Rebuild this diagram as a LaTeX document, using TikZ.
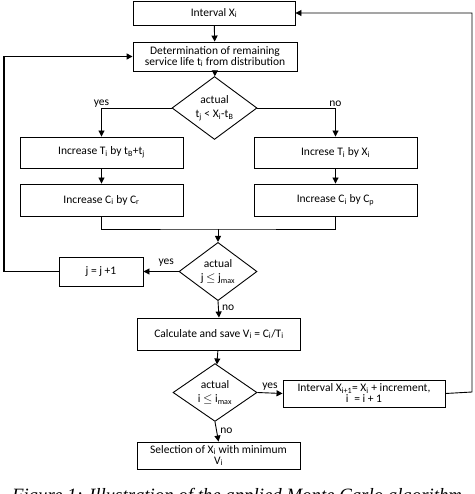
\documentclass[tikz,border=0pt]{standalone}
\usepackage{fontspec}
\setmainfont{Carlito}
\newfontfamily\capfont{Liberation Serif}
\usetikzlibrary{shapes.geometric, arrows.meta, positioning}
\newcommand{\lo}[1]{\textsubscript{#1}}

\begin{document}
\begin{tikzpicture}[x=1pt, y=-1pt,
  box/.style={draw, line width=0.9pt, inner sep=1pt, align=center, font=\fontsize{11.5}{12.5}\selectfont},
  decision/.style={draw, diamond, line width=0.9pt, inner sep=0pt, align=center, font=\fontsize{11.5}{14}\selectfont},
  flow/.style={line width=0.9pt, -{Triangle[length=6pt,width=6pt]}},
  tag/.style={font=\fontsize{11.5}{12.5}\selectfont}]
\useasboundingbox (0,0) rectangle (474,494);

% boxes and decisions placed at coordinates
\node[box, minimum width=162pt, minimum height=24pt] (interval) at (214,13) {Interval X\lo{i}};
\node[box, minimum width=164pt, minimum height=29pt] (determ) at (215,56.5)
  {Determination of remaining\\[-1.5pt]service life t\lo{i} from distribution};
\node[decision, minimum width=85pt, minimum height=52pt] (lifedec) at (214.5,108)
  {actual\\t\lo{j} < X\lo{i}-t\lo{B}};
\node[box, minimum width=163pt, minimum height=31pt] (incT) at (101.5,152.5) {Increase T\lo{i} by t\lo{B}+t\lo{j}};
\node[box, minimum width=163pt, minimum height=32pt] (incC) at (101.5,200) {Increase C\lo{i} by C\lo{r}};
\node[box, minimum width=163pt, minimum height=31pt] (incTX) at (335.5,152.5) {Increse T\lo{i} by X\lo{i}};
\node[box, minimum width=163pt, minimum height=32pt] (incCp) at (335.5,200) {Increase C\lo{i} by C\lo{p}};
\coordinate (join) at (218,229);
\node[decision, minimum width=78pt, minimum height=49pt] (jdec) at (218,271.5)
  {actual\\j $\leq$ j\lo{max}};
\node[box, minimum width=84pt, minimum height=29pt] (jinc) at (101,271.5) {j = j +1};
\node[box, minimum width=163pt, minimum height=32pt] (calc) at (219,334)
  {Calculate and save V\lo{i} = C\lo{i}/T\lo{i}};
\node[decision, minimum width=84pt, minimum height=49pt] (idec) at (215,392.5)
  {actual\\i $\leq$ i\lo{max}};
\node[box, minimum width=162pt, minimum height=27pt] (next) at (364,393.5)
  {Interval X\lo{i+1}= X\lo{i} + increment,\\[-1.5pt]i\enspace = i + 1};
\node[box, minimum width=163pt, minimum height=27pt] (select) at (218.5,455.5)
  {Selection of X\lo{i} with minimum\\[-1.5pt]V\lo{i}};

% connectors
\draw[flow] (interval) -- (determ);
\draw[flow] (determ) -- (lifedec);
\draw[flow] (lifedec.west) -| (incT.north) node[tag, pos=0.55, above] {yes};
\draw[flow] (lifedec.east) -| (incTX.north) node[tag, pos=0.55, above] {no};
\draw[flow] (incT) -- (incC);
\draw[flow] (incTX) -- (incCp);
\draw[line width=0.9pt] (incC.south) |- (join) -| (incCp.south);
\draw[flow] (join) -- (jdec.north);
\draw[flow] (jdec.west) -- (jinc.east) node[tag, pos=0.35, above=1pt] {yes};
\coordinate (back) at (4,271.5);
\draw[flow, line width=1.3pt] (jinc.west) -- (back) |- (determ.west);
\draw[flow] (jdec.south) -- (calc.north) node[tag, pos=0.4, right] {no};
\draw[flow] (calc) -- (idec);
\draw[flow] (idec.east) -- (next.west) node[tag, pos=0.5, above=-1pt] {yes};
\draw[flow] (idec.south) -- (select.north) node[tag, pos=0.45, right] {no};
\coordinate (up) at (472,392);
\draw[flow] (next.east) -- (up) |- (interval.east);

% caption, cut off by the page edge
\node[anchor=base, font=\capfont\itshape\fontsize{18.8}{20}\selectfont] (caption) at (237,501)
  {Figure 1: Illustration of the applied Monte Carlo algorithm};
\end{tikzpicture}
\end{document}
